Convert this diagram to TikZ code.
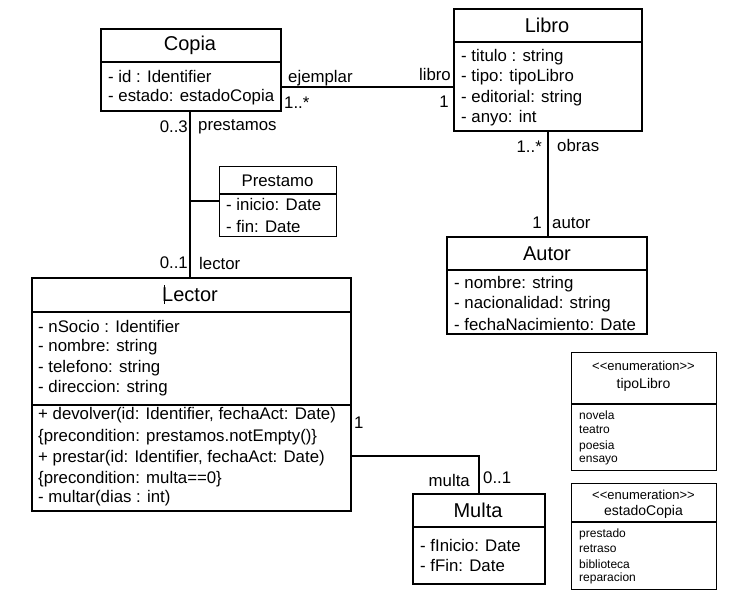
\documentclass[tikz,border=0pt]{standalone}
\usepackage{fontspec}
\setmainfont{Liberation Sans}
\newcommand{\enumhead}{<\kern0pt<enumeration>\kern0pt>}
\begin{document}
\begin{tikzpicture}[x=1pt,y=-1pt,
  box/.style={draw,line width=1.8pt,anchor=north west,inner sep=0pt},
  sep/.style={line width=1.6pt},
  con/.style={line width=1.2pt},
  atr/.style={anchor=west,inner sep=0pt,font=\fontsize{16.8}{17}\selectfont},
  tt/.style={inner sep=0pt,font=\fontsize{20}{20}\selectfont},
  en/.style={anchor=west,inner sep=0pt,font=\fontsize{12}{12}\selectfont},
  eh/.style={inner sep=0pt,font=\fontsize{13}{13}\selectfont},
  lb/.style={inner sep=0pt,font=\fontsize{16.8}{17}\selectfont}]
\useasboundingbox (0,0) rectangle (748,608);
% Copia
\node[box,minimum width=180pt,minimum height=82pt] (copia) at (100,28) {};
\draw[sep] (100,62) -- (280,62);
\node[tt] (copiat) at (190,45) {Copia};
\node[atr] at (108,76) {- id : Identifier};
\node[atr] at (108,97) {- estado: estadoCopia};
% Libro
\node[box,minimum width=188pt,minimum height=122pt] (libro) at (453,8) {};
\draw[sep] (453,42) -- (641,42);
\node[tt] at (547,25) {Libro};
\node[atr] at (461,57) {- titulo : string};
\node[atr] at (461,77) {- tipo: tipoLibro};
\node[atr] at (461,98) {- editorial: string};
\node[atr] at (461,118) {- anyo: int};
% Prestamo
\node[box,minimum width=117pt,minimum height=70pt,line width=1.4pt] (prest) at (219,166) {};
\draw[line width=1.3pt] (219,194) -- (336,194);
\node[lb] at (277.5,181) {Prestamo};
\node[atr] at (226,204) {- inicio: Date};
\node[atr] at (226,226) {- fin: Date};
% Lector
\node[box,minimum width=319pt,minimum height=233pt] (lector) at (31,277) {};
\draw[sep] (31,312) -- (350,312);
\draw[sep] (31,405) -- (350,405);
\node[tt] at (190,295) {Lector};
\draw[line width=0.8pt] (164,285) -- (164,304);
\node[atr] at (38,326) {- nSocio : Identifier};
\node[atr] at (38,347) {- nombre: string};
\node[atr] at (38,368) {- telefono: string};
\node[atr] at (38,388) {- direccion: string};
\node[atr] at (38,415) {+ devolver(id: Identifier, fechaAct: Date)};
\node[atr] at (38,437) {\{precondition: prestamos.notEmpty()\}};
\node[atr] at (38,458) {+ prestar(id: Identifier, fechaAct: Date)};
\node[atr] at (38,479) {\{precondition: multa==0\}};
\node[atr] at (38,498) {- multar(dias : int)};
% Autor
\node[box,minimum width=200pt,minimum height=97pt] (autor) at (446,236) {};
\draw[sep] (446,270) -- (646,270);
\node[tt] at (547,254) {Autor};
\node[atr] at (454,284) {- nombre: string};
\node[atr] at (454,304) {- nacionalidad: string};
\node[atr] at (454,324) {- fechaNacimiento: Date};
% Multa
\node[box,minimum width=132pt,minimum height=90pt] (multa) at (412,493) {};
\draw[sep] (412,527) -- (544,527);
\node[tt] at (478,510) {Multa};
\node[atr] at (420,545) {- fInicio: Date};
\node[atr] at (420,565) {- fFin: Date};
% enums
\node[box,line width=1.2pt,minimum width=145pt,minimum height=118pt] (tipo) at (571,352) {};
\draw[line width=1.2pt] (571,404) -- (716,404);
\node[eh] at (643.5,366) {\enumhead};
\node[eh,font=\fontsize{14}{14}\selectfont] at (643.5,385) {tipoLibro};
\node[en] at (579,415) {novela};
\node[en] at (579,430) {teatro};
\node[en] at (579,446) {poesia};
\node[en] at (579,461) {ensayo};
\node[box,line width=1.2pt,minimum width=145pt,minimum height=106pt] (estado) at (571,483) {};
\draw[line width=1.2pt] (571,522) -- (716,522);
\node[eh] at (643.5,495) {\enumhead};
\node[eh,font=\fontsize{14}{14}\selectfont] at (643.5,512) {estadoCopia};
\node[en] at (579,534) {prestado};
\node[en] at (579,549) {retraso};
\node[en] at (579,564) {biblioteca};
\node[en] at (579,578) {reparacion};
% connectors
\coordinate (cl) at (190,201);
\draw[con] (copia.east |- 0,87) -- (libro.west |- 0,87);
\node[lb,anchor=west] at (288,78) {ejemplar};
\node[lb,anchor=east] at (451,74) {libro};
\node[lb,anchor=west] at (284,103) {1..*};
\node[lb,anchor=east] at (449,102) {1};
\draw[con] (copia.south -| cl) -- (lector.north -| cl);
\draw[con] (cl) -- (prest.west |- cl);
\node[lb,anchor=east] at (188,127) {0..3};
\node[lb,anchor=west] at (198,127) {prestamos};
\node[lb,anchor=east] at (188,263) {0..1};
\node[lb,anchor=west] at (199,263) {lector};
\draw[con] (libro.south) -- (autor.north -| libro.south);
\node[lb,anchor=east] at (542,147) {1..*};
\node[lb,anchor=west] at (557,145) {obras};
\node[lb,anchor=east] at (542,223) {1};
\node[lb,anchor=west] at (552,223) {autor};
\draw[con] (lector.east |- 0,456) -| (multa.north);
\node[lb,anchor=west] at (354,423) {1};
\node[lb,anchor=east] at (470,480) {multa};
\node[lb,anchor=west] at (483,478) {0..1};
\end{tikzpicture}
\end{document}
